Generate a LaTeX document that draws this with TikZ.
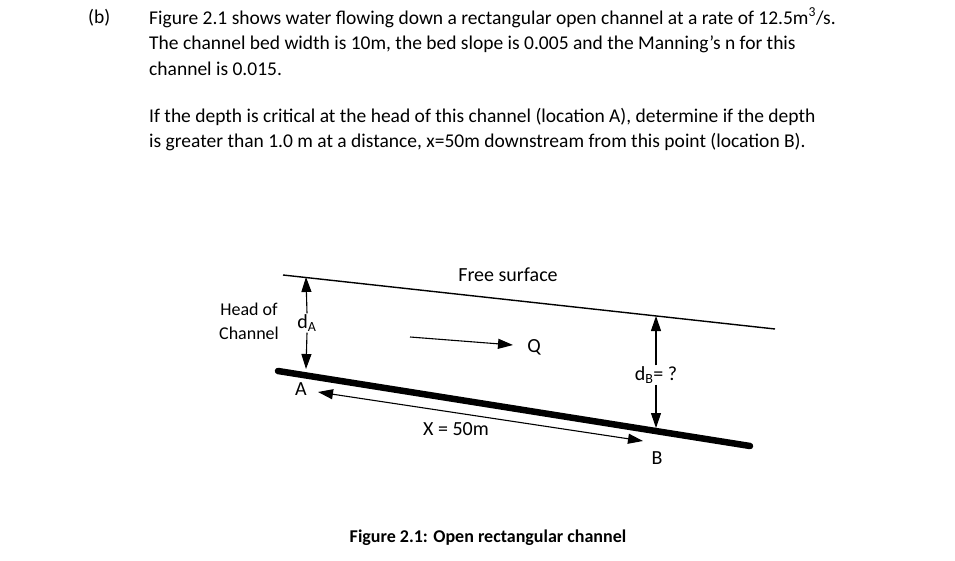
\documentclass[tikz,border=0pt]{standalone}
\usepackage{fontspec}
\setmainfont{Carlito}
\usetikzlibrary{arrows.meta}
\begin{document}
\begin{tikzpicture}[x=1pt,y=-1pt,
  txt/.style={anchor=west,inner sep=0pt,font=\fontsize{19.5}{22}\selectfont},
  lbl/.style={inner sep=1pt,font=\fontsize{20}{24}\selectfont},
  dim/.style={-{Triangle[length=15pt,width=10pt]},line width=1.1pt},
  bed/.style={line width=6.5pt,line cap=round}]
\useasboundingbox (0,0) rectangle (955,561);
\node[txt] (b) at (88,18) {(b)};
\node[txt] (l1) at (149,18) {Figure 2.1 shows water flowing down a rectangular open channel at a rate of 12.5m\textsuperscript{3}/s.};
\node[txt] (l2) at (149,44) {The channel bed width is 10m, the bed slope is 0.005 and the Manning’s n for this};
\node[txt] (l3) at (149,69) {channel is 0.015.};
\node[txt] (l4) at (149,117) {If the depth is critical at the head of this channel (location A), determine if the depth};
\node[txt] (l5) at (149,142) {is greater than 1.0 m at a distance, x=50m downstream from this point (location B).};
% channel
\coordinate (fs1) at (283,275); \coordinate (fs2) at (775,329);
\coordinate (bd1) at (278,371); \coordinate (bd2) at (750,446);
\draw[line width=1.4pt] (fs1) -- (fs2);
\draw[bed] (bd1) -- (bd2);
\node[lbl] (fs) at (508,275) {Free surface};
\node[lbl,align=center,font=\fontsize{18}{24}\selectfont] (head) at (249,321) {Head of\\Channel};
\node[lbl] (dA) at (307,323) {d\textsubscript{A}};
\coordinate (dAt) at (306,277); \coordinate (dAb) at (306,369);
\draw[dim] (dA.north) -- (dAt);
\draw[dim] (dA.south) -- (dAb);
\coordinate (q1) at (410,337); \coordinate (q2) at (513,345);
\draw[dim] (q1) -- (q2);
\node[lbl] (Q) at (534,347) {Q};
\node[lbl] (dB) at (656,375) {d\textsubscript{B}= ?};
\coordinate (dBt) at (656,316); \coordinate (dBb) at (656,428);
\draw[dim] (dB.north) -- (dBt);
\draw[dim] (dB.south) -- (dBb);
\node[lbl] (A) at (301,389) {A};
\node[lbl] (B) at (657,458) {B};
\coordinate (xa) at (318,392); \coordinate (xb) at (643,441);
\draw[dim,{Triangle[length=15pt,width=10pt]}-{Triangle[length=15pt,width=10pt]}] (xa) -- (xb);
\node[lbl] (X) at (456,429) {X = 50m};
\node[lbl,font=\bfseries\fontsize{18}{22}\selectfont] (cap) at (488,538) {Figure 2.1: Open rectangular channel};
\end{tikzpicture}
\end{document}
